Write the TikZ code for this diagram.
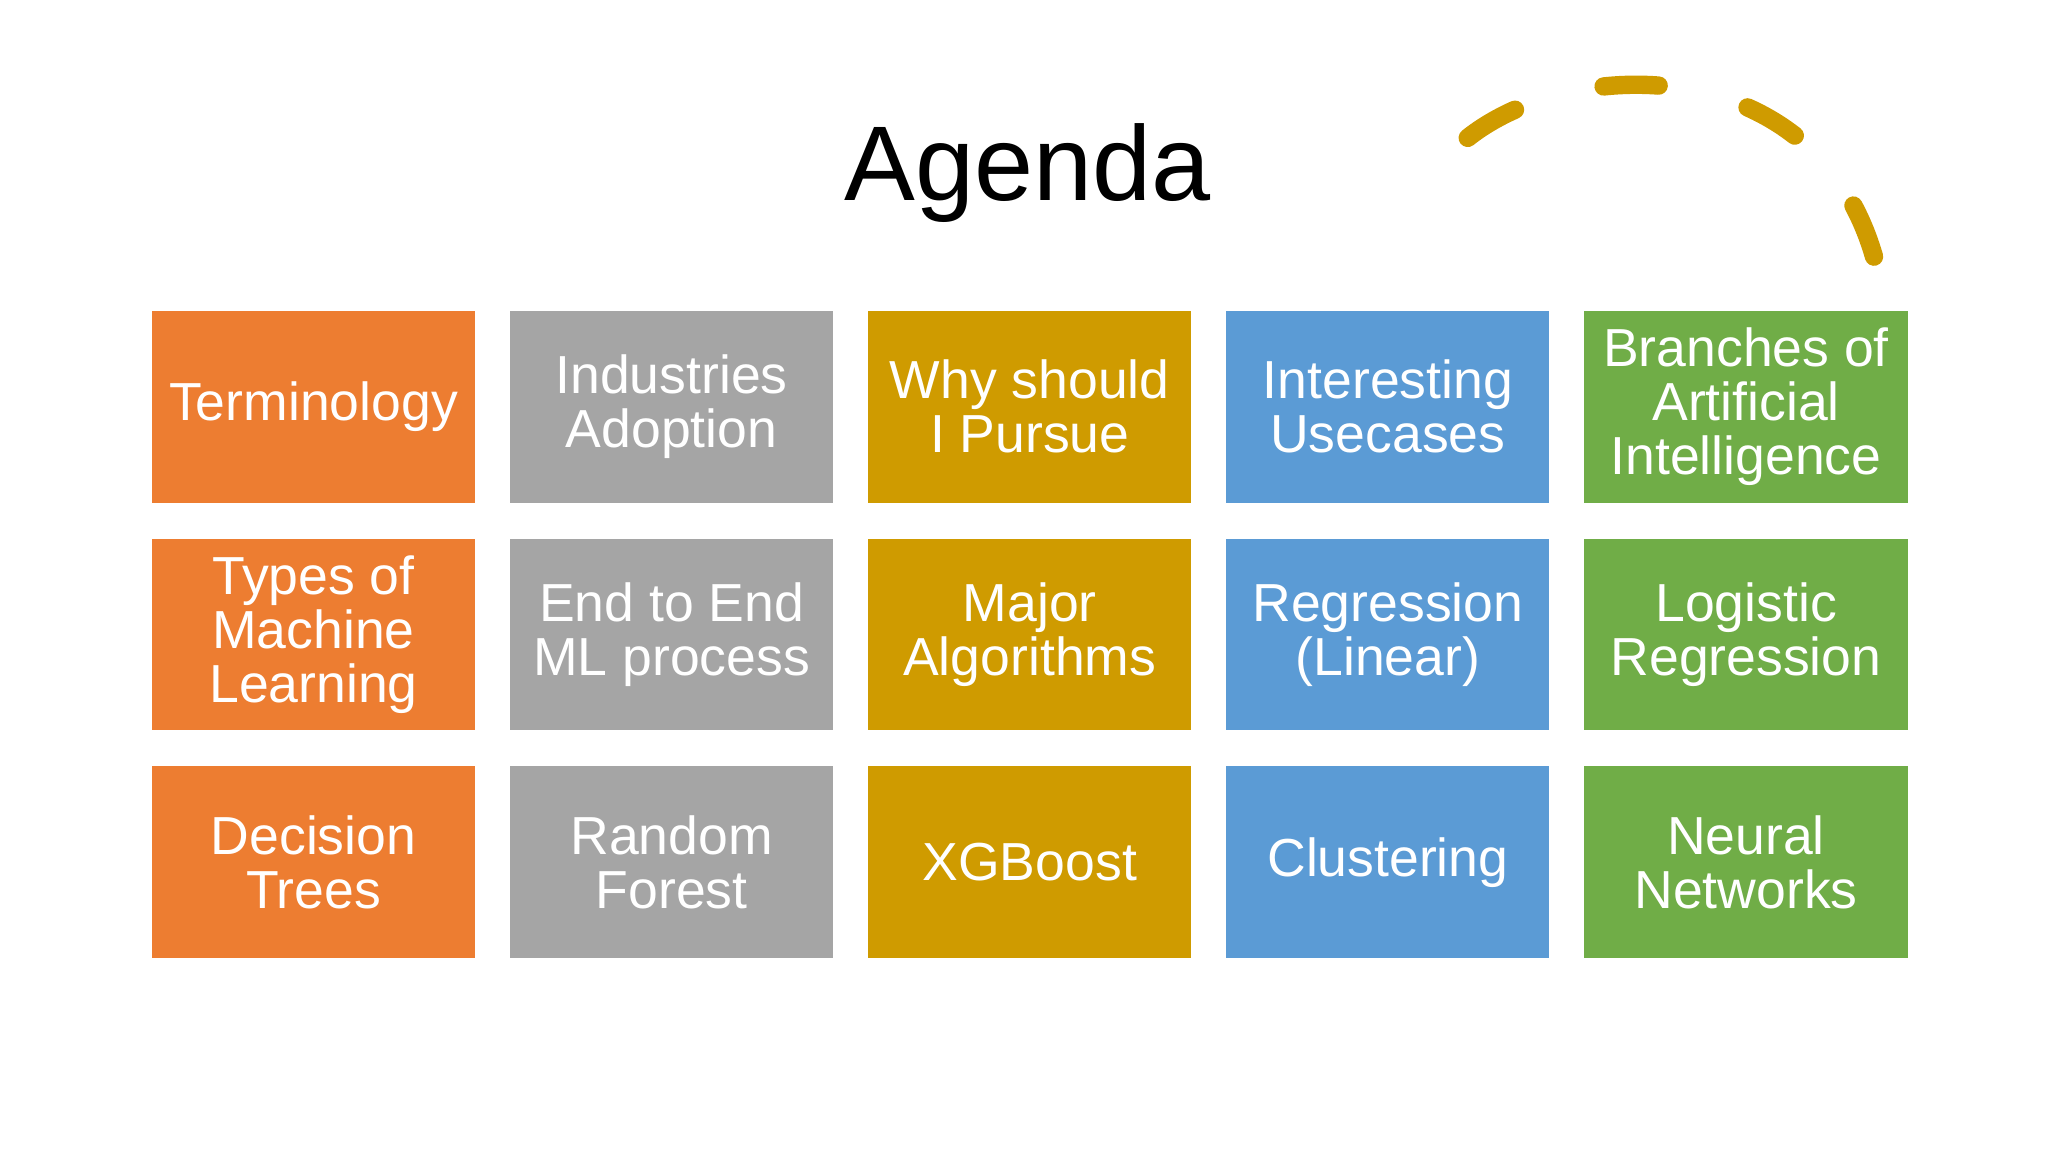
\documentclass[tikz,border=0pt]{standalone}
\usepackage{fontspec}
\setmainfont{Liberation Sans}
\definecolor{corange}{HTML}{ED7D31}
\definecolor{cgray}{HTML}{A5A5A5}
\definecolor{cgold}{HTML}{CF9B00}
\definecolor{cblue}{HTML}{5B9BD5}
\definecolor{cgreen}{HTML}{70AD47}
\begin{document}
\begin{tikzpicture}[x=0.01cm,y=-0.01cm,
  tile/.style={minimum width=2.46cm,minimum height=1.46cm,inner sep=0pt,text=white,align=center,
    font=\fontsize{11.6pt}{11.7pt}\selectfont,anchor=north west}]
\useasboundingbox (0,0) rectangle (1560,877.5);
\node (title) at (783,132) {\fontsize{23pt}{23pt}\selectfont Agenda};
\foreach \t [count=\i from 0] in {Terminology,Industries\\Adoption,Why should\\I Pursue,Interesting\\Usecases,Branches of\\Artificial\\Intelligence}{
  \node[tile,fill=\ifcase\i corange\or cgray\or cgold\or cblue\else cgreen\fi] (r1c\i) at (115+272.8*\i,236) {\t};}
\foreach \t [count=\i from 0] in {Types of\\Machine\\Learning,End to End\\ML process,Major\\Algorithms,Regression\\(Linear),Logistic\\Regression}{
  \node[tile,fill=\ifcase\i corange\or cgray\or cgold\or cblue\else cgreen\fi] (r2c\i) at (115+272.8*\i,409.5) {\t};}
\foreach \t [count=\i from 0] in {Decision\\Trees,Random\\Forest,XGBoost,Clustering,Neural\\Networks}{
  \node[tile,fill=\ifcase\i corange\or cgray\or cgold\or cblue\else cgreen\fi] (r3c\i) at (115+272.8*\i,583) {\t};}
\draw[cgold,line width=0.14cm,line cap=round,dash pattern=on 0.42cm off 0.7cm]
  (1118,105) .. controls (1200,40) and (1390,40) .. (1430,205);
\end{tikzpicture}
\end{document}
